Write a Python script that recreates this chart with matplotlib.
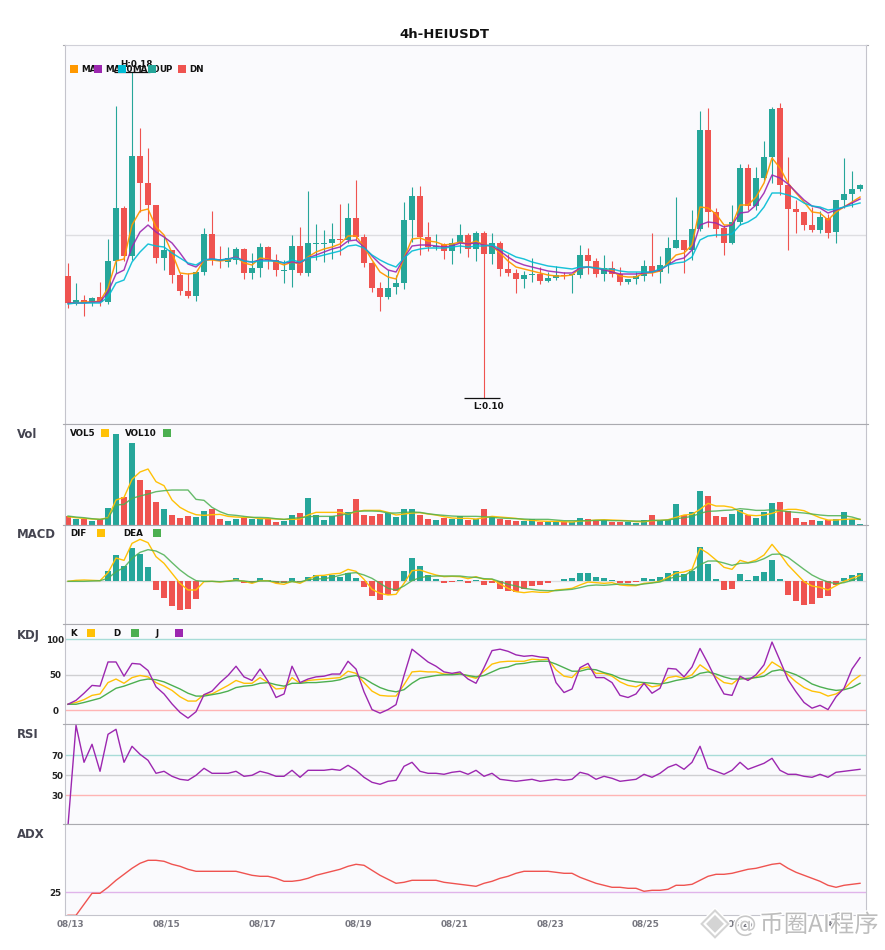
import numpy as np
import matplotlib
matplotlib.use('Agg')
import matplotlib.pyplot as plt
import matplotlib.patheffects as pe
from matplotlib.patches import Rectangle
from matplotlib.transforms import ScaledTranslation

# prices are kept in steps of 0.00025 above 0.10
PRICE_BASE = 0.10
PRICE_STEP = 0.00025

dates = ['08/13', '08/15', '08/17', '08/19', '08/21', '08/23', '08/25', '08/27', '08/29']

opens = [122, 95, 98, 95, 101, 96, 137, 190, 142, 242, 215, 193, 140, 148, 123, 107, 102, 126, 164, 139,
         136, 138, 149, 125, 130, 151, 138, 127, 128, 152, 125, 154, 154, 155, 159, 158, 180, 161, 135, 110,
         101, 111, 115, 178, 202, 161, 151, 154, 147, 155, 163, 149, 165, 144, 155, 129, 125, 119, 123, 124,
         117, 120, 123, 123, 123, 143, 137, 124, 130, 124, 116, 119, 122, 132, 126, 133, 150, 158, 148, 169,
         268, 186, 170, 155, 176, 230, 192, 220, 241, 290, 213, 189, 186, 173, 168, 180, 166, 198, 204, 209]
closes = [95, 98, 95, 100, 96, 137, 190, 142, 242, 215, 193, 140, 148, 123, 107, 102, 126, 164, 138, 137,
          140, 149, 125, 130, 151, 138, 128, 128, 152, 125, 155, 155, 155, 159, 158, 180, 161, 135, 110, 101,
          110, 115, 178, 202, 161, 151, 152, 147, 155, 163, 149, 165, 144, 155, 129, 125, 119, 123, 124, 117,
          120, 123, 122, 124, 143, 137, 124, 130, 124, 116, 119, 122, 132, 126, 133, 150, 158, 148, 169, 268,
          186, 169, 155, 176, 230, 192, 220, 241, 289, 213, 189, 186, 173, 168, 181, 165, 198, 204, 209, 213]
highs = [135, 115, 103, 101, 116, 159, 292, 192, 326, 270, 250, 193, 161, 148, 125, 125, 126, 170, 187, 152,
         151, 151, 150, 145, 155, 152, 144, 138, 163, 171, 207, 174, 168, 175, 194, 195, 218, 164, 136, 116,
         128, 123, 196, 211, 212, 176, 164, 155, 160, 174, 165, 167, 167, 165, 157, 144, 129, 127, 140, 131,
         126, 132, 126, 124, 153, 150, 140, 143, 137, 131, 119, 126, 138, 165, 142, 161, 201, 158, 188, 287,
         290, 190, 173, 193, 234, 234, 231, 257, 291, 295, 241, 198, 186, 191, 187, 184, 198, 240, 227, 214]
lows = [90, 93, 82, 92, 92, 94, 125, 137, 138, 186, 177, 135, 128, 115, 103, 100, 97, 123, 133, 130,
        131, 134, 119, 119, 121, 129, 122, 115, 111, 123, 122, 138, 136, 139, 143, 155, 158, 131, 106, 87,
        99, 104, 109, 156, 143, 147, 148, 139, 134, 145, 141, 137, 0, 134, 122, 122, 105, 110, 116, 114,
        116, 118, 119, 105, 120, 124, 121, 117, 121, 113, 114, 114, 117, 122, 115, 125, 150, 125, 138, 167,
        171, 161, 143, 154, 173, 188, 188, 218, 215, 203, 148, 165, 168, 166, 165, 160, 155, 190, 191, 207]
ma5 = [95, 95, 96, 96, 97, 110, 137, 139, 173, 187, 189, 171, 163, 145, 125, 124, 125, 138, 138, 137,
       138, 141, 135, 133, 140, 139, 136, 133, 136, 134, 141, 146, 149, 151, 154, 162, 162, 151, 138, 126,
       121, 119, 140, 159, 160, 157, 156, 153, 154, 156, 154, 157, 153, 152, 145, 137, 131, 129, 127, 125,
       123, 122, 122, 123, 130, 131, 130, 129, 127, 122, 121, 121, 125, 125, 127, 135, 143, 145, 153, 191,
       190, 184, 173, 173, 193, 193, 201, 215, 240, 230, 215, 205, 196, 186, 185, 178, 186, 191, 196, 201]
ma10 = [95, 95, 95, 96, 96, 106, 124, 128, 151, 166, 173, 166, 161, 155, 145, 134, 131, 138, 139, 138,
        139, 141, 137, 136, 138, 138, 137, 135, 136, 135, 140, 143, 146, 149, 151, 157, 158, 151, 142, 134,
        128, 126, 140, 152, 153, 153, 152, 151, 152, 155, 154, 155, 153, 152, 147, 141, 136, 133, 131, 129,
        127, 126, 125, 125, 130, 131, 130, 128, 126, 124, 124, 124, 125, 126, 128, 133, 138, 140, 148, 173,
        176, 175, 171, 173, 185, 186, 193, 205, 223, 220, 214, 206, 198, 192, 190, 185, 188, 191, 195, 199]
ma20 = [94, 95, 95, 95, 95, 101, 115, 118, 136, 146, 154, 152, 151, 145, 140, 135, 133, 138, 139, 138,
        139, 140, 137, 136, 137, 137, 137, 135, 138, 136, 140, 141, 143, 145, 147, 152, 153, 150, 143, 138,
        134, 131, 140, 147, 149, 150, 150, 150, 151, 152, 151, 152, 152, 153, 149, 145, 141, 139, 136, 134,
        132, 131, 130, 129, 131, 131, 130, 129, 129, 127, 126, 126, 126, 126, 129, 133, 135, 136, 141, 158,
        162, 163, 163, 164, 173, 176, 181, 191, 205, 205, 203, 200, 195, 192, 191, 188, 189, 191, 193, 195]

volume = [25, 17, 17, 11, 16, 50, 272, 83, 245, 134, 104, 68, 47, 29, 20, 26, 23, 41, 47, 17,
          11, 17, 20, 17, 17, 17, 8, 11, 29, 35, 80, 29, 14, 26, 47, 38, 77, 29, 26, 32,
          35, 23, 47, 47, 29, 17, 14, 20, 17, 26, 14, 17, 47, 23, 17, 14, 11, 11, 17, 8,
          8, 8, 8, 8, 20, 17, 11, 14, 8, 8, 8, 5, 14, 29, 14, 14, 62, 29, 38, 101,
          86, 26, 23, 32, 44, 29, 20, 38, 65, 68, 41, 20, 8, 14, 11, 14, 17, 38, 17, 2]
vol5 = [24, 21, 19, 17, 16, 21, 74, 82, 136, 158, 167, 129, 117, 74, 52, 39, 30, 28, 30, 31,
        25, 23, 22, 22, 18, 18, 17, 16, 16, 17, 29, 37, 37, 37, 37, 32, 39, 43, 43, 43,
        37, 29, 32, 35, 36, 32, 29, 24, 20, 19, 19, 17, 21, 25, 23, 21, 19, 15, 13, 11,
        10, 10, 9, 8, 11, 12, 14, 15, 14, 13, 12, 9, 9, 12, 13, 15, 22, 29, 31, 46,
        64, 56, 56, 52, 39, 29, 27, 29, 34, 42, 46, 46, 42, 31, 21, 14, 14, 16, 17, 16]
vol10 = [26, 23, 21, 18, 16, 19, 59, 61, 79, 86, 92, 99, 102, 104, 104, 104, 76, 73, 52, 39,
         30, 28, 25, 22, 22, 21, 18, 16, 19, 21, 24, 25, 25, 25, 28, 33, 40, 41, 41, 40,
         35, 35, 37, 38, 37, 33, 30, 28, 26, 25, 25, 25, 24, 22, 20, 19, 18, 17, 16, 16,
         16, 14, 12, 12, 12, 12, 13, 13, 12, 12, 11, 11, 11, 13, 13, 14, 18, 21, 25, 34,
         40, 41, 43, 44, 48, 46, 43, 43, 45, 42, 39, 37, 35, 32, 29, 27, 27, 27, 23, 16]

macd_hist = [0, 0, 0, 0, 0, 31, 79, 46, 100, 82, 43, -26, -50, -74, -86, -83, -53, 0, 0, 0,
             0, 10, -6, -6, 10, 3, -6, -6, 10, -3, 13, 19, 16, 19, 13, 25, 10, -17, -44, -56,
             -41, -29, 31, 70, 46, 19, 7, -5, -3, 3, -5, 3, -11, -5, -23, -29, -32, -23, -14, -11,
             -5, 0, 7, 10, 25, 25, 13, 10, 4, -5, -5, -3, 10, 7, 13, 25, 31, 22, 31, 103,
             52, 7, -26, -23, 22, 3, 16, 28, 64, 7, -41, -59, -71, -68, -50, -44, -11, 10, 19, 25]
dif = [0, 3, 4, 3, 2, 26, 70, 63, 114, 126, 116, 74, 54, 24, -6, -26, -26, -1, 0, -2,
       1, 4, 0, -6, 2, 2, -6, -9, 0, -6, 6, 17, 18, 22, 24, 36, 30, 6, -24, -36,
       -41, -39, -6, 32, 34, 26, 19, 14, 15, 14, 8, 14, 6, 6, -8, -21, -31, -34, -31, -33,
       -33, -26, -24, -21, -11, -2, -4, -6, -4, -11, -13, -13, -6, -4, 0, 12, 25, 28, 36, 99,
       84, 64, 42, 36, 63, 56, 64, 79, 111, 82, 49, 24, -1, -14, -18, -26, -13, 0, 9, 18]
dea = [0, 0, 0, 1, 2, 9, 29, 41, 69, 87, 95, 91, 79, 56, 34, 16, 2, 0, 0, -1,
       0, 2, 1, -2, 1, 1, -1, -3, -1, -2, 5, 7, 8, 12, 18, 24, 26, 19, 9, -6,
       -21, -26, -14, 2, 11, 15, 16, 16, 16, 16, 13, 12, 8, 7, -1, -9, -14, -21, -24, -27,
       -28, -28, -26, -24, -19, -13, -11, -12, -10, -8, -9, -11, -8, -5, -2, 7, 14, 16, 32, 50,
       61, 61, 55, 48, 54, 55, 59, 68, 81, 82, 72, 54, 36, 19, 7, -2, -7, -4, 3, 11]

k_line = [8.5, 11, 15, 21, 23, 39, 44, 38, 46, 49, 47, 39, 34, 28, 19, 13, 13, 22, 23, 29,
          35, 42, 38, 38, 46, 39, 30, 31, 46, 38, 42, 43, 44, 45, 46, 55, 52, 39, 27, 21,
          20, 20, 36, 54, 55, 54, 54, 51, 51, 52, 48, 45, 55, 65, 68, 69, 69, 69, 72, 71,
          72, 57, 48, 46, 58, 61, 52, 52, 48, 40, 35, 33, 38, 33, 35, 46, 48, 45, 50, 64,
          56, 47, 39, 37, 46, 43, 47, 54, 68, 61, 50, 40, 32, 27, 25, 20, 23, 30, 41, 49]
d_line = [8.5, 8.5, 11, 14, 17, 24, 31, 34, 38, 42, 44, 43, 40, 35, 30, 24, 20, 20, 22, 24,
          27, 32, 34, 35, 38, 39, 36, 34, 38, 38, 39, 39, 40, 41, 43, 47, 49, 45, 38, 32,
          28, 26, 29, 38, 45, 47, 49, 50, 50, 51, 49, 47, 49, 54, 59, 61, 65, 66, 68, 69,
          69, 65, 60, 55, 55, 58, 57, 53, 50, 45, 42, 40, 39, 38, 37, 39, 42, 44, 46, 52,
          54, 51, 47, 44, 44, 45, 46, 48, 55, 57, 54, 50, 44, 37, 33, 30, 28, 29, 32, 38]
j_line = [8.5, 14, 24, 35, 34, 68, 68, 48, 66, 65, 56, 33, 23, 9, -3, -11, -2, 22, 27, 39,
          49, 62, 47, 42, 58, 41, 18, 23, 62, 39, 44, 47, 48, 51, 51, 69, 58, 26, 1, -4,
          1, 8, 49, 86, 77, 68, 62, 54, 52, 54, 44, 38, 60, 84, 86, 83, 78, 76, 77, 75,
          74, 39, 25, 30, 60, 66, 46, 46, 39, 21, 18, 23, 38, 24, 31, 59, 58, 47, 61, 87,
          66, 43, 23, 21, 48, 42, 50, 64, 96, 70, 43, 26, 11, 3, 7, 1, 19, 31, 58, 74]
rsi = [0, 100, 63, 81, 54, 91, 96, 63, 79, 71, 65, 52, 54, 49, 46, 45, 50, 57, 52, 52,
       52, 54, 49, 50, 54, 52, 49, 49, 55, 48, 55, 55, 55, 56, 55, 60, 55, 48, 43, 41,
       44, 45, 59, 63, 54, 52, 52, 51, 53, 54, 51, 55, 49, 52, 46, 45, 44, 45, 46, 44,
       45, 46, 45, 46, 53, 51, 46, 49, 47, 44, 45, 46, 51, 48, 52, 58, 61, 56, 63, 79,
       57, 54, 51, 55, 63, 56, 59, 62, 67, 55, 51, 51, 49, 48, 51, 48, 53, 54, 55, 56]
adx = [13.5, 13.5, 19, 24.5, 24.5, 27.5, 31, 34, 37, 39.5, 41, 41, 40.5, 39, 38, 36.5, 35.5, 35.5, 35.5, 35.5,
       35.5, 35.5, 34.5, 33.5, 33, 33, 32, 30.5, 30.5, 31, 32, 33.5, 34.5, 35.5, 36.5, 38, 39, 38.5, 36, 33.5,
       31.5, 29.5, 30, 31, 31, 31, 31, 30, 29.5, 29, 28.5, 28, 29.5, 30.5, 32, 33, 34.5, 35.5, 35.5, 35.5,
       35.5, 35, 34.5, 34.5, 32.5, 31, 29.5, 28.5, 27.5, 27.5, 27, 27, 25.5, 26, 26, 26.5, 28.5, 28.5, 29, 31,
       33, 34, 34, 34.5, 35.5, 36.5, 37, 38, 39, 39.5, 37, 35, 33.5, 32, 30.5, 28.5, 27.5, 28.5, 29, 29.5]

UP = '#26A69A'
DOWN = '#EF5350'
YELLOW = '#FFC107'
GREEN = '#4CAF50'
PURPLE = '#9C27B0'
BG = '#FAFAFD'
WIDTH, HEIGHT = 885, 950


def to_price(values):
    return PRICE_BASE + np.array(values, dtype=float) * PRICE_STEP


def make_axes(fig, top, bottom):
    ax = fig.add_axes([65.3 / WIDTH, 1 - bottom / HEIGHT, 800.4 / WIDTH, (bottom - top) / HEIGHT])
    ax.set_facecolor(BG)
    ax.set_xlim(-0.34, 99.71)
    ax.set_xticks([])
    ax.set_yticks([])
    ax.spines['left'].set_color('#c4c4cc')
    ax.spines['right'].set_color('#c4c4cc')
    ax.spines['top'].set_color('#aaaab0')
    ax.spines['bottom'].set_color('#c4c4cc')
    for x0, x1 in [(-0.003, 0), (1, 1.003)]:
        ax.plot([x0, x1], [1, 1], transform=ax.transAxes, clip_on=False, color='#aaaab0', lw=0.8)
    return ax


def y_labels(ax, ticks, pad):
    ax.set_yticks(ticks)
    ax.tick_params(axis='y', length=0, pad=pad, labelsize=6.3)
    for lbl in ax.get_yticklabels():
        lbl.set_fontweight('bold')
        lbl.set_ha('center')
        lbl.set_color('#222222')


def legend_text(fig, x, y, s):
    fig.text(x / WIDTH, 1 - y / HEIGHT, s, fontsize=6.3, fontweight='bold', color='#111111',
             ha='left', va='center', zorder=1)


def legend_box(fig, x, y, color):
    fig.add_artist(Rectangle((x / WIDTH, 1 - (y + 4) / HEIGHT), 8 / WIDTH, 8 / HEIGHT, facecolor=color,
                             edgecolor='none', transform=fig.transFigure, zorder=2))


def panel_name(fig, y, s):
    fig.text(17 / WIDTH, 1 - y / HEIGHT, s, fontsize=8.4, fontweight='bold', color='#444450',
             ha='left', va='center')


fig = plt.figure(figsize=(WIDTH / 100, HEIGHT / 100), dpi=100, facecolor='white')
x = np.arange(len(opens))
op, cl, hi, lo = to_price(opens), to_price(closes), to_price(highs), to_price(lows)
colors = [UP if c >= o else DOWN for o, c in zip(opens, closes)]

# candles
ax = make_axes(fig, 45, 424.3)
ax.spines['top'].set_color('#d0d0d8')
ax.set_ylim(to_price(-26.3), to_price(353))
ax.axhline(to_price(163), color='#dedee2', lw=1, zorder=0)
wicks = ax.vlines(x, lo, hi, colors=colors, lw=0.8, zorder=2)
wicks.set_snap(True)
ax.bar(x, np.abs(cl - op), bottom=np.minimum(op, cl), width=0.75, color=colors, zorder=3)
ax.plot(x, to_price(ma5), color='#FF9800', lw=1.05, alpha=0.95, zorder=4)
ax.plot(x, to_price(ma10), color=PURPLE, lw=1.05, alpha=0.9, zorder=4)
ax.plot(x, to_price(ma20), color='#00BCD4', lw=1.05, alpha=0.9, zorder=4)

# high and low marks
i_hi, i_lo = int(np.argmax(hi)), int(np.argmin(lo))
ax.hlines(hi[i_hi], i_hi - 2.25, i_hi + 2.25, color='#111111', lw=0.9, zorder=5)
ax.hlines(lo[i_lo], i_lo - 2.5, i_lo + 2, color='#111111', lw=0.9, zorder=5)
ax.annotate(f'H:{hi[i_hi]:.2f}', (i_hi, hi[i_hi]), xytext=(3.5, 2), textcoords='offset points',
            ha='center', va='bottom', fontsize=6.3, fontweight='bold', color='#111111', zorder=5)
ax.annotate(f'L:{lo[i_lo]:.2f}', (i_lo, lo[i_lo]), xytext=(3, -3), textcoords='offset points',
            ha='center', va='top', fontsize=6.3, fontweight='bold', color='#111111', zorder=5)
fig.text(444 / WIDTH, 1 - 34.5 / HEIGHT, '4h-HEIUSDT', fontsize=9.5, fontweight='bold', color='#111111',
         ha='center', va='center')

for tx, bx, name, col in [(81, 70, 'MA5', '#FF9800'), (105, 94, 'MA10', PURPLE), (132, 118, 'MA20', '#00BCD4'),
                          (159, 148, 'UP', UP), (189, 178, 'DN', DOWN)]:
    legend_text(fig, tx, 69, name)
    legend_box(fig, bx, 69, col)

# volume
ax = make_axes(fig, 424.3, 524.7)
ax.set_ylim(0, 301)
ax.bar(x, volume, width=0.75, color=colors, zorder=2)
ax.plot(x, vol5, color=YELLOW, lw=1, zorder=3)
ax.plot(x, vol10, color=GREEN, lw=1, alpha=0.85, zorder=3)
panel_name(fig, 435, 'Vol')
legend_text(fig, 70, 434, 'VOL5')
legend_box(fig, 101, 433, YELLOW)
legend_text(fig, 125, 434, 'VOL10')
legend_box(fig, 163, 433, GREEN)

# macd
ax = make_axes(fig, 524.7, 624.3)
ax.set_ylim(-129, 170)
ax.axhline(0, color='#dcdce0', lw=1, zorder=1)
ax.bar(x, macd_hist, width=0.75, color=[UP if v >= 0 else DOWN for v in macd_hist], zorder=2)
ax.plot(x, dif, color=YELLOW, lw=1, zorder=3)
ax.plot(x, dea, color=GREEN, lw=1, alpha=0.85, zorder=3)
panel_name(fig, 535, 'MACD')
legend_text(fig, 70, 534, 'DIF')
legend_box(fig, 97, 533, YELLOW)
legend_text(fig, 123, 534, 'DEA')
legend_box(fig, 153, 533, GREEN)

# kdj
ax = make_axes(fig, 624.3, 724.3)
ax.set_ylim(-19.7, 121)
ax.axhline(100, color='#a8dcd8', lw=1)
ax.axhline(50, color='#cfcfd2', lw=1)
ax.axhline(0, color='#ffb4b4', lw=1)
ax.plot(x, k_line, color=YELLOW, lw=1, zorder=3)
ax.plot(x, d_line, color=GREEN, lw=1, zorder=3)
ax.plot(x, j_line, color=PURPLE, lw=1, zorder=3)
y_labels(ax, [0, 50, 100], 7.2)
panel_name(fig, 635, 'KDJ')
legend_text(fig, 70, 634, 'K')
legend_box(fig, 87, 633, YELLOW)
legend_text(fig, 113, 634, 'D')
legend_box(fig, 131, 633, GREEN)
legend_text(fig, 156, 634, 'J')
legend_box(fig, 175, 633, PURPLE)

# rsi
ax = make_axes(fig, 724.3, 824.3)
ax.set_ylim(1, 101)
ax.axhline(70, color='#a8dcd8', lw=1)
ax.axhline(50, color='#cfcfd2', lw=1)
ax.axhline(30, color='#ffb4b4', lw=1)
ax.plot(x, rsi, color=PURPLE, lw=1, zorder=3)
y_labels(ax, [30, 50, 70], 5.8)
panel_name(fig, 735, 'RSI')

# adx
ax = make_axes(fig, 824.3, 915.3)
ax.set_ylim(13.5, 59)
ax.axhline(25, color='#e0b4ea', lw=1)
ax.plot(x, adx, color=DOWN, lw=1, zorder=3)
y_labels(ax, [25], 7.2)
panel_name(fig, 835, 'ADX')
ax.set_xticks(np.arange(len(dates)) * 12)
ax.set_xticklabels(dates, fontsize=6.4, fontweight='bold', color='#777780')
ax.tick_params(axis='x', length=0, pad=3)
shift = ScaledTranslation(2 / 100, 0, fig.dpi_scale_trans)
for lbl in ax.get_xticklabels():
    lbl.set_transform(lbl.get_transform() + shift)

# watermark
halo = [pe.withStroke(linewidth=2, foreground='white')]
fig.text(715 / WIDTH, 1 - 923 / HEIGHT, '◈', fontsize=28, color='#d4d4d4', ha='center', va='center',
         path_effects=halo, zorder=6)
fig.text(745 / WIDTH, 1 - 925 / HEIGHT, '@', fontsize=17, color='#c8c8c8', ha='center', va='center',
         path_effects=halo, zorder=6)
fig.text(819 / WIDTH, 1 - 925 / HEIGHT, '币圈AI程序', fontsize=17.5, color='#bdbdbd', ha='center', va='center',
         family=['Noto Sans CJK SC', 'DejaVu Sans'], path_effects=halo, zorder=6)

fig.savefig('out.png', dpi=100)
plt.close(fig)
